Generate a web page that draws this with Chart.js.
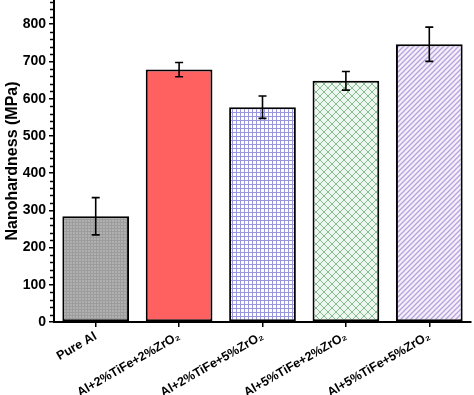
<!DOCTYPE html>
<html>
<head>
<meta charset="utf-8">
<script src="https://cdn.jsdelivr.net/npm/chart.js@4.4.1/dist/chart.umd.min.js"></script>
<style>
    html, body { margin: 0; padding: 0; background: #fff; }
    #wrap { width: 474px; height: 395px; }
</style>
</head>
<body>
<div id="wrap"><canvas id="chart" width="474" height="395"></canvas></div>
<script>
// ---- data ----
const samples = ['Pure Al', 'Al+2%TiFe+2%ZrO₂', 'Al+2%TiFe+5%ZrO₂', 'Al+5%TiFe+2%ZrO₂', 'Al+5%TiFe+5%ZrO₂'];
const hardness = [284, 678, 577, 648, 746];
const hardnessErr = [50, 19, 30, 25, 46];
const yTicks = [0, 100, 200, 300, 400, 500, 600, 700, 800];
const yMax = 865;

// ---- fill patterns ----
function makeTile(size, draw) {
    const c = document.createElement('canvas');
    c.width = size;
    c.height = size;
    draw(c.getContext('2d'), size);
    return c.getContext('2d').createPattern(c, 'repeat');
}

const ctx = document.getElementById('chart').getContext('2d');

const grayDots = makeTile(3, (g) => {
    g.fillStyle = '#b0b0b0';
    g.fillRect(0, 0, 3, 3);
    g.fillStyle = '#9c9c9c';
    g.fillRect(0, 0, 1, 3);
    g.fillRect(0, 0, 3, 1);
});

const blueGrid = makeTile(4, (g, n) => {
    g.fillStyle = '#ffffff';
    g.fillRect(0, 0, n, n);
    g.fillStyle = '#9896dc';
    g.fillRect(0, 0, n, 1);
    g.fillRect(0, 0, 1, n);
});

const greenHatch = makeTile(8, (g, n) => {
    g.fillStyle = '#eef7ef';
    g.fillRect(0, 0, n, n);
    g.strokeStyle = '#85b990';
    g.lineWidth = 1;
    g.beginPath();
    g.moveTo(0, 0); g.lineTo(n, n);
    g.moveTo(0, n); g.lineTo(n, 0);
    g.stroke();
});

const purpleLines = makeTile(5, (g, n) => {
    g.fillStyle = '#f4effa';
    g.fillRect(0, 0, n, n);
    g.strokeStyle = '#b6a3dc';
    g.lineWidth = 1.3;
    g.beginPath();
    g.moveTo(-1, n + 1); g.lineTo(n + 1, -1);
    g.moveTo(-1, 1); g.lineTo(1, -1);
    g.moveTo(n - 1, n + 1); g.lineTo(n + 1, n - 1);
    g.stroke();
});

const fills = [grayDots, '#ff6161', blueGrid, greenHatch, purpleLines];

// ---- plugins ----
const errorBars = {
    id: 'errorBars',
    afterDatasetsDraw(chart) {
        const y = chart.scales.y;
        const meta = chart.getDatasetMeta(0);
        const c = chart.ctx;
        c.save();
        c.strokeStyle = '#000';
        c.lineWidth = 1.6;
        meta.data.forEach((bar, i) => {
            const top = y.getPixelForValue(hardness[i] + hardnessErr[i]);
            const bot = y.getPixelForValue(hardness[i] - hardnessErr[i]);
            c.beginPath();
            c.moveTo(bar.x, top); c.lineTo(bar.x, bot);
            c.moveTo(bar.x - 4, top); c.lineTo(bar.x + 4, top);
            c.moveTo(bar.x - 4, bot); c.lineTo(bar.x + 4, bot);
            c.stroke();
        });
        c.restore();
    }
};

const minorTicks = {
    id: 'minorTicks',
    afterDraw(chart) {
        const y = chart.scales.y;
        const c = chart.ctx;
        const x0 = chart.chartArea.left;
        c.save();
        c.strokeStyle = '#000';
        c.lineWidth = 1.5;
        for (let v = 20; v < yMax; v += 20) {
            if (v % 100 === 0) continue;
            const py = Math.round(y.getPixelForValue(v)) + 0.5;
            c.beginPath();
            c.moveTo(x0 - 4, py);
            c.lineTo(x0, py);
            c.stroke();
        }
        c.restore();
    }
};

// ---- chart ----
new Chart(ctx, {
    type: 'bar',
    data: {
        labels: samples,
        datasets: [{
            data: hardness,
            backgroundColor: fills,
            borderColor: '#000',
            borderWidth: 2,
            borderSkipped: false,
            categoryPercentage: 1,
            barPercentage: 0.8,
        }]
    },
    options: {
        responsive: false,
        animation: false,
        layout: { padding: { top: 0, right: 3, left: 3, bottom: 0 } },
        plugins: {
            legend: { display: false },
            tooltip: { enabled: false }
        },
        scales: {
            x: {
                grid: { drawOnChartArea: false, offset: false, color: '#000', lineWidth: 1.5, tickLength: 5 },
                border: { color: '#000', width: 2 },
                ticks: {
                    color: '#000',
                    font: { family: 'Liberation Sans, Arial, sans-serif', size: 12.5, weight: 'bold' },
                    minRotation: 30,
                    maxRotation: 30,
                    padding: 2,
                    autoSkip: false
                },
                afterFit(scale) { scale.height = 73; scale.paddingLeft = 0; scale.paddingRight = 0; }
            },
            y: {
                min: 0,
                max: yMax,
                grid: { drawOnChartArea: false, color: '#000', lineWidth: 1.5, tickLength: 5 },
                border: { color: '#000', width: 2 },
                ticks: {
                    color: '#000',
                    font: { family: 'Liberation Sans, Arial, sans-serif', size: 14, weight: 'bold' },
                    padding: 3
                },
                afterBuildTicks(scale) {
                    scale.ticks = yTicks.map(v => ({ value: v }));
                },
                afterFit(scale) { scale.width = 51; scale.paddingTop = 0; scale.paddingBottom = 0; },
                title: {
                    display: true,
                    text: 'Nanohardness (MPa)',
                    color: '#000',
                    font: { family: 'Liberation Sans, Arial, sans-serif', size: 16, weight: 'bold' },
                    padding: { top: 0, bottom: 0 }
                }
            }
        }
    },
    plugins: [errorBars, minorTicks]
});
</script>
</body>
</html>
